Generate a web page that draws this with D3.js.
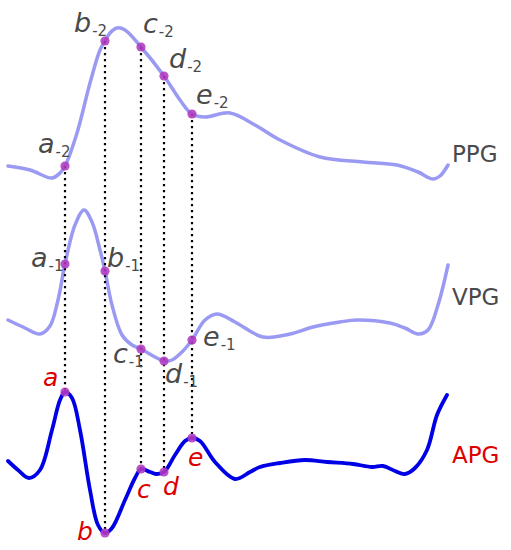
<!DOCTYPE html>
<html><head><meta charset="utf-8">
<script src="https://cdn.jsdelivr.net/npm/d3@7"></script>
<style>html,body{margin:0;padding:0;background:#fff;}svg{display:block;}</style>
</head><body>
<svg id="chart" width="511" height="550"></svg>
<script>
// Time samples (arbitrary units) and amplitudes (arbitrary units)
const ppgT = [0,22,44,52,57,69,82,92,97,102,109,117,133,156,172,184,197,222,247,272,312,355,389,410,425,432,440];
const ppgV = [14,10,2,7,14,47,97,130,139,147,152,150,133,104,80,66,63,67,55,40,23,18,15,8,1,4,15];

const vpgT = [0,17,32,42,50,57,67,76,84,92,97,104,114,124,133,147,156,164,174,184,197,209,227,255,282,305,332,349,382,397,410,420,430,440];
const vpgV = [0,-8,-14,-6,20,56,95,110,98,70,49,15,-15,-25,-29,-37,-41,-40,-32,-20,0,6,-2,-17,-14,-7,-2,0,-3,-8,-14,-10,15,55];

const apgT = [0,10,21,32,44,52,57,64,72,82,90,97,104,117,127,133,142,148,156,167,177,184,192,207,227,242,252,272,297,319,345,364,375,387,397,407,419,429,439];
const apgV = [-1,-10,-18,-10,30,60,68,62,30,-30,-65,-73,-68,-40,-18,-9,-12,-14,-12,5,19,22,19,-2,-19,-12,-7,-3,0,-2,-4,-7,-6,-11,-14,-8,10,45,65];

// Fiducial points (times shared by all three signals)
const fiducials = ["a","b","c","d","e"];
const fiducialT = [57,97,133,156,184];
const seriesNames = ["PPG","VPG","APG"];

const svg = d3.select("#chart");
const x = d3.scaleLinear().domain([0,440]).range([8,448]);
const yPPG = d3.scaleLinear().domain([0,160]).range([180,20]);
const yVPG = d3.scaleLinear().domain([-50,110]).range([370,210]);
const yAPG = d3.scaleLinear().domain([-80,80]).range([540,380]);

const series = [
  {name:"PPG", t:ppgT, v:ppgV, y:yPPG, color:"#9a9af3", w:3.5, labelColor:"#4a4a4a", sub:"-2"},
  {name:"VPG", t:vpgT, v:vpgV, y:yVPG, color:"#9a9af3", w:3.5, labelColor:"#4a4a4a", sub:"-1"},
  {name:"APG", t:apgT, v:apgV, y:yAPG, color:"#0000e6", w:3.8, labelColor:"#dd0000", sub:""}
];

function valueAt(s, t){ return s.v[s.t.indexOf(t)]; }

const line = d3.line().curve(d3.curveCatmullRom.alpha(0.5));

// curves
series.forEach(s => {
  svg.append("path")
    .attr("d", line(s.t.map((t,i)=>[x(t), s.y(s.v[i])])))
    .attr("fill","none").attr("stroke",s.color).attr("stroke-width",s.w)
    .attr("stroke-linecap","round").attr("stroke-linejoin","round");
});

// dotted verticals
fiducialT.forEach(t => {
  const y1 = yPPG(valueAt(series[0], t));
  const y2 = yAPG(valueAt(series[2], t));
  svg.append("line").attr("x1",x(t)).attr("x2",x(t)).attr("y1",y1).attr("y2",y2)
    .attr("stroke","#000").attr("stroke-width",2.2).attr("stroke-dasharray","2.2,3.8");
});

// dots
series.forEach(s => {
  fiducialT.forEach(t => {
    svg.append("circle").attr("cx",x(t)).attr("cy",s.y(valueAt(s,t))).attr("r",4.6)
      .attr("fill","#b23ac0").attr("fill-opacity",0.88);
  });
});

// label offsets relative to dots
const offsets = {
  PPG:[[-27,-13],[-31,-9],[2,-14],[5,-8],[4,-10]],
  VPG:[[-34,3],[2,-4],[-28,14],[1,22],[11,6]],
  APG:[[-22,-6],[-28,7],[-4,29],[-1,23],[-4,28]]
};
series.forEach(s => {
  fiducials.forEach((f,i) => {
    const t = fiducialT[i];
    const [dx,dy] = offsets[s.name][i];
    const txt = svg.append("text")
      .attr("x", x(t)+dx).attr("y", s.y(valueAt(s,t))+dy)
      .attr("font-family","DejaVu Sans, Verdana, sans-serif")
      .attr("fill", s.labelColor);
    txt.append("tspan").attr("font-style","italic")
      .attr("font-size", s.sub ? 27 : 25).text(f);
    if (s.sub) {
      txt.append("tspan").attr("font-size",15).attr("dy",4).attr("dx",1).text(s.sub);
    }
  });
});

// series names
const nameY = {PPG:162, VPG:305, APG:463};
series.forEach(s => {
  svg.append("text").attr("x",452).attr("y",nameY[s.name])
    .attr("font-family","DejaVu Sans, Verdana, sans-serif").attr("font-size",23)
    .attr("fill", s.name==="APG" ? "#dd0000" : "#4a4a4a").text(s.name);
});
</script>
</body></html>
